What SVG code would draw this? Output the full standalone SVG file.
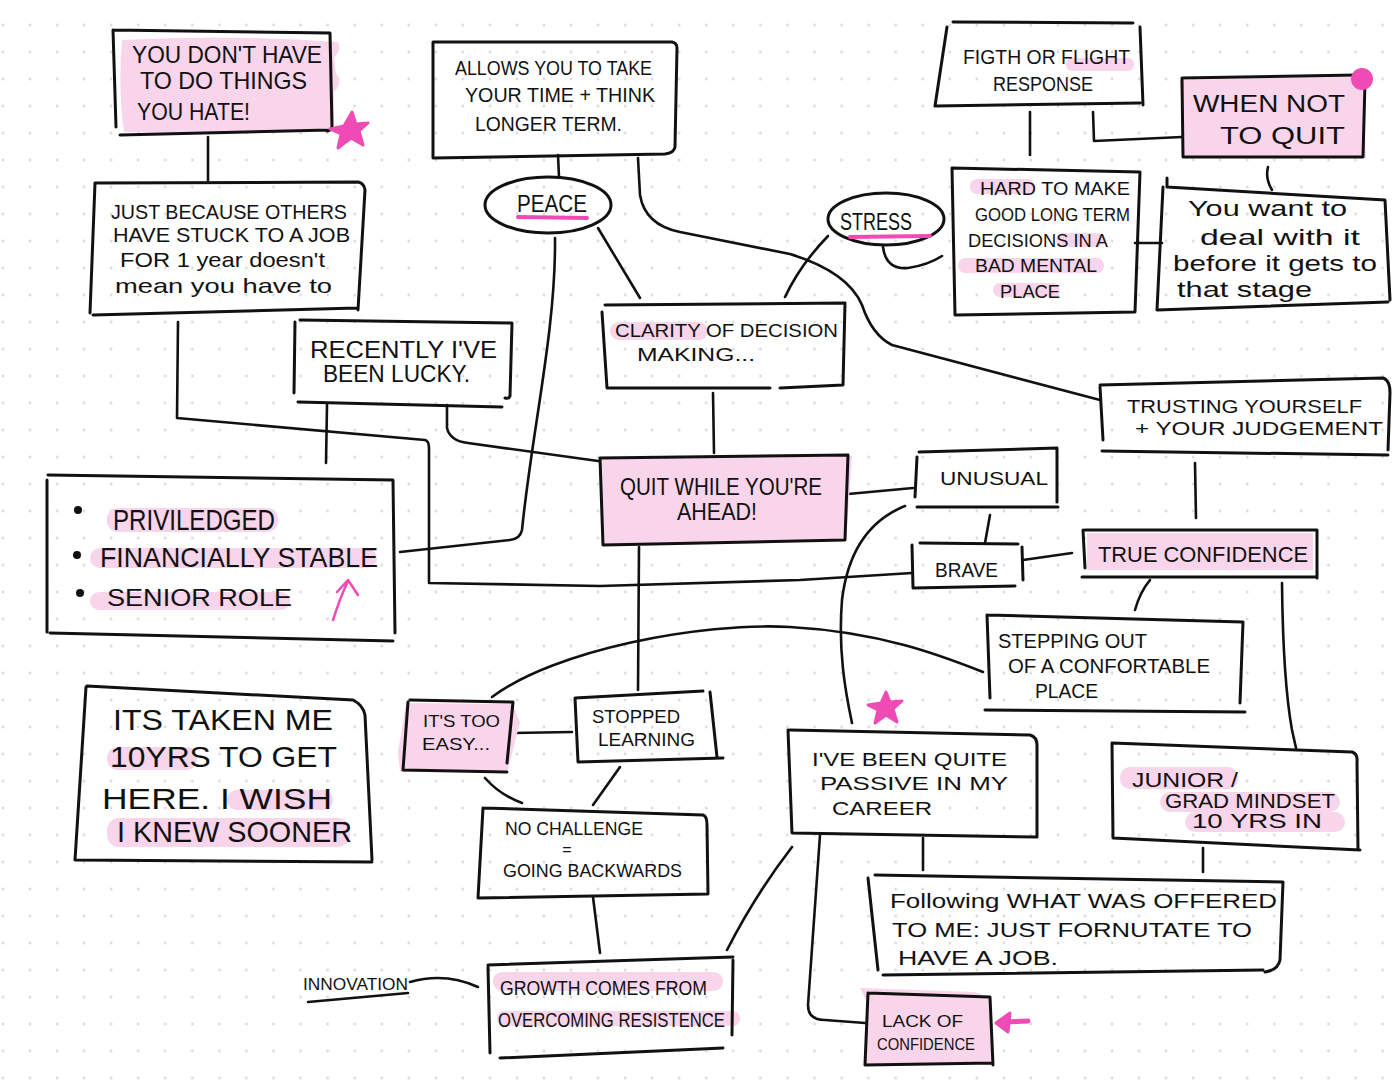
<svg xmlns="http://www.w3.org/2000/svg" width="1400" height="1084" viewBox="0 0 1400 1084">
<defs>
<pattern id="dots" x="-10.5" y="11.5" width="27.05" height="27" patternUnits="userSpaceOnUse"><circle cx="13.5" cy="13.5" r="1.3" fill="#d2d2d2"/></pattern>
</defs>
<style>
.b{fill:none;stroke:#111;stroke-width:3;stroke-linecap:round;stroke-linejoin:round}
.c{fill:none;stroke:#111;stroke-width:2.6;stroke-linecap:round;stroke-linejoin:round}
.f{fill:#f8d5ea}
.hl{fill:#f8d5ea}
.pk{fill:#ee4cb4}
.pks{fill:none;stroke:#ee4cb4;stroke-linecap:round;stroke-linejoin:round}
text{font-family:"Liberation Sans",Arial,sans-serif;fill:#111}
</style>
<rect width="1400" height="1084" fill="#fff"/>
<rect width="1400" height="1084" fill="url(#dots)"/>

<g id="connectors">
<path class="c" d="M208,137 L208,181"/>
<path class="c" d="M178,322 L177,418 L425,440 Q429,441 429,448 L429,583 L600,586 L800,580 L912,573"/>
<path class="c" d="M327,405 L326,463"/>
<path class="c" d="M447,405 L447,428 Q450,441 468,443 L598,461"/>
<path class="c" d="M558,155 L559,177"/>
<path class="c" d="M555,238 C556,330 532,430 522,530 Q520,539 510,540 L400,552"/>
<path class="c" d="M598,228 L640,298"/>
<path class="c" d="M638,158 L640,195 Q645,225 680,232 L790,254 Q848,272 862,305 Q872,335 892,345 L1100,400"/>
<path class="c" d="M828,236 Q800,265 785,297"/>
<path class="c" d="M883,247 Q886,270 908,268 Q928,265 942,256"/>
<path class="c" d="M1030,112 L1030,155"/>
<path class="c" d="M1093,112 L1094,141 L1182,137"/>
<path class="c" d="M1268,167 Q1265,178 1272,190"/>
<path class="c" d="M1135,243 L1162,243"/>
<path class="c" d="M713,393 L714,453"/>
<path class="c" d="M848,494 L913,488"/>
<path class="c" d="M990,515 L985,543"/>
<path class="c" d="M1023,560 L1072,553"/>
<path class="c" d="M1195,463 L1196,518"/>
<path class="c" d="M1150,580 Q1140,592 1135,610"/>
<path class="c" d="M1282,583 Q1283,680 1292,730 L1296,748"/>
<path class="c" d="M905,506 C870,520 848,550 842,600 C838,650 845,690 852,723"/>
<path class="c" d="M492,697 C555,650 700,622 790,627 C880,632 940,655 983,672"/>
<path class="c" d="M639,547 L638,690"/>
<path class="c" d="M513,733 L572,732"/>
<path class="c" d="M485,778 Q500,795 522,803"/>
<path class="c" d="M620,767 L593,805"/>
<path class="c" d="M593,897 L600,953"/>
<path class="c" d="M727,950 Q755,895 792,847"/>
<path class="c" d="M410,982 Q445,972 478,987"/>
<path class="c" d="M820,835 L808,1005 Q808,1020 825,1020 L865,1023"/>
<path class="c" d="M923,838 L923,870"/>
<path class="c" d="M1203,848 L1203,872"/>
</g>

<g id="n-dont-have">
<path class="f" d="M122,40 Q230,34 338,42 Q342,50 334,58 L336,74 Q344,82 334,92 L334,128 Q230,134 124,132 Q118,90 122,40 Z"/>
<path class="b" d="M113,30 L330,33 L332,127 Q331,131 327,131 M120,135 L330,130 M113,30 L116,127"/>
<text x="132" y="63" font-size="24" textLength="190" lengthAdjust="spacingAndGlyphs">YOU DON'T HAVE</text>
<text x="140" y="89" font-size="24" textLength="167" lengthAdjust="spacingAndGlyphs">TO DO THINGS</text>
<text x="137" y="120" font-size="24" textLength="113" lengthAdjust="spacingAndGlyphs">YOU HATE!</text>
<path class="pk" d="M352,112 L356,124 L368,123 L359,131 L363,145 L351,138 L338,148 L341,134 L330,129 L344,126 Z" stroke="#ee4cb4" stroke-width="3" stroke-linejoin="round"/>
</g>

<g id="n-just-because">
<path class="b" d="M95,183 L358,182 Q364,183 365,190 L358,310 M93,315 L357,308 M95,183 L90,313"/>
<text x="111" y="219" font-size="21" textLength="236" lengthAdjust="spacingAndGlyphs">JUST BECAUSE OTHERS</text>
<text x="113" y="242" font-size="21" textLength="237" lengthAdjust="spacingAndGlyphs">HAVE STUCK TO A JOB</text>
<text x="120" y="267" font-size="21" textLength="205" lengthAdjust="spacingAndGlyphs">FOR 1 year doesn't</text>
<text x="115" y="293" font-size="21" textLength="217" lengthAdjust="spacingAndGlyphs">mean you have to</text>
</g>

<g id="n-allows">
<path class="b" d="M433,42 L672,42 Q677,43 677,48 L675,147 Q674,153 665,154 L433,158 L433,42"/>
<text x="455" y="75" font-size="20" textLength="197" lengthAdjust="spacingAndGlyphs">ALLOWS YOU TO TAKE</text>
<text x="465" y="102" font-size="20" textLength="190" lengthAdjust="spacingAndGlyphs">YOUR TIME + THINK</text>
<text x="475" y="131" font-size="20" textLength="147" lengthAdjust="spacingAndGlyphs">LONGER TERM.</text>
</g>

<g id="n-peace">
<ellipse class="b" cx="548" cy="205" rx="63" ry="28"/>
<path class="pks" stroke-width="4" d="M518,217 L587,218"/>
<text x="517" y="212" font-size="24" textLength="70" lengthAdjust="spacingAndGlyphs">PEACE</text>
</g>

<g id="n-stress">
<ellipse class="b" cx="886" cy="219" rx="58" ry="26"/>
<path class="pks" stroke-width="4" d="M850,237 L930,236"/>
<text x="840" y="230" font-size="23" textLength="72" lengthAdjust="spacingAndGlyphs">STRESS</text>
</g>

<g id="n-fight">
<rect class="hl" x="1066" y="58" width="68" height="13" rx="6"/>
<path class="b" d="M953,22 L1133,23 M947,27 L935,106 L1140,103 M1140,27 L1143,105"/>
<text x="963" y="64" font-size="20" textLength="167" lengthAdjust="spacingAndGlyphs">FIGTH OR FLIGHT</text>
<text x="993" y="91" font-size="20" textLength="100" lengthAdjust="spacingAndGlyphs">RESPONSE</text>
</g>

<g id="n-when-not">
<path class="f" d="M1180,80 L1362,76 L1366,158 L1184,157 Z"/>
<path class="b" d="M1182,78 L1357,75 M1365,82 L1363,157 L1183,157 L1182,78"/>
<circle class="pk" cx="1362" cy="79" r="11"/>
<text x="1193" y="112" font-size="23" textLength="152" lengthAdjust="spacingAndGlyphs">WHEN NOT</text>
<text x="1220" y="144" font-size="23" textLength="125" lengthAdjust="spacingAndGlyphs">TO QUIT</text>
</g>

<g id="n-hard">
<rect class="hl" x="970" y="179" width="64" height="15" rx="7"/>
<rect class="hl" x="1056" y="233" width="48" height="14" rx="7"/>
<rect class="hl" x="958" y="258" width="146" height="15" rx="7"/>
<rect class="hl" x="993" y="283" width="67" height="14" rx="7"/>
<path class="b" d="M952,168 L1140,172 L1135,312 L955,315 L952,168"/>
<text x="980" y="195" font-size="18" textLength="150" lengthAdjust="spacingAndGlyphs">HARD TO MAKE</text>
<text x="975" y="221" font-size="18" textLength="155" lengthAdjust="spacingAndGlyphs">GOOD LONG TERM</text>
<text x="968" y="247" font-size="18" textLength="140" lengthAdjust="spacingAndGlyphs">DECISIONS IN A</text>
<text x="975" y="272" font-size="18" textLength="122" lengthAdjust="spacingAndGlyphs">BAD MENTAL</text>
<text x="1000" y="298" font-size="18" textLength="60" lengthAdjust="spacingAndGlyphs">PLACE</text>
</g>

<g id="n-you-want">
<path class="b" d="M1167,178 L1167,187 L1385,200 L1390,300 M1163,187 L1157,310 L1388,302"/>
<text x="1188" y="216" font-size="22" textLength="159" lengthAdjust="spacingAndGlyphs">You want to</text>
<text x="1200" y="245" font-size="22" textLength="160" lengthAdjust="spacingAndGlyphs">deal with it</text>
<text x="1173" y="271" font-size="22" textLength="204" lengthAdjust="spacingAndGlyphs">before it gets to</text>
<text x="1177" y="297" font-size="22" textLength="135" lengthAdjust="spacingAndGlyphs">that stage</text>
</g>

<g id="n-recently">
<path class="b" d="M300,320 L512,323 L510,396 Q509,399 505,398 M295,322 L294,393 M298,402 L502,407"/>
<text x="310" y="358" font-size="23" textLength="187" lengthAdjust="spacingAndGlyphs">RECENTLY I'VE</text>
<text x="323" y="382" font-size="23" textLength="147" lengthAdjust="spacingAndGlyphs">BEEN LUCKY.</text>
</g>

<g id="n-clarity">
<rect class="hl" x="610" y="322" width="98" height="18" rx="9"/>
<path class="b" d="M605,305 L845,303 L843,385 L780,388 M770,388 L607,388 L602,312"/>
<text x="615" y="337" font-size="19" textLength="223" lengthAdjust="spacingAndGlyphs">CLARITY OF DECISION</text>
<text x="637" y="361" font-size="19" textLength="118" lengthAdjust="spacingAndGlyphs">MAKING...</text>
</g>

<g id="n-quit">
<path class="f" d="M601,458 L852,456 L846,541 L603,545 Z"/>
<path class="b" d="M600,458 L848,455 L845,540 L603,545 L600,458"/>
<text x="620" y="495" font-size="24" textLength="202" lengthAdjust="spacingAndGlyphs">QUIT WHILE YOU'RE</text>
<text x="677" y="520" font-size="24" textLength="80" lengthAdjust="spacingAndGlyphs">AHEAD!</text>
</g>

<g id="n-unusual">
<path class="b" d="M919,452 L1057,448 L1057,502 M917,457 L915,497 M917,507 L1058,507"/>
<text x="940" y="485" font-size="18" textLength="108" lengthAdjust="spacingAndGlyphs">UNUSUAL</text>
</g>

<g id="n-trusting">
<path class="b" d="M1100,385 L1383,378 Q1390,380 1390,393 L1388,450 M1100,387 L1103,440 M1102,451 L1388,455"/>
<text x="1127" y="413" font-size="19" textLength="235" lengthAdjust="spacingAndGlyphs">TRUSTING YOURSELF</text>
<text x="1135" y="435" font-size="19" textLength="248" lengthAdjust="spacingAndGlyphs">+ YOUR JUDGEMENT</text>
</g>

<g id="n-brave">
<path class="b" d="M920,543 L1018,544 M912,545 L913,588 L1015,586 M1022,547 L1023,580"/>
<text x="935" y="577" font-size="21" textLength="63" lengthAdjust="spacingAndGlyphs">BRAVE</text>
</g>

<g id="n-true">
<path class="f" d="M1087,533 L1313,533 L1313,570 L1087,570 Z"/>
<path class="b" d="M1085,530 L1317,530 L1317,578 M1083,530 L1085,568 M1082,577 L1317,577"/>
<text x="1098" y="562" font-size="22" textLength="210" lengthAdjust="spacingAndGlyphs">TRUE CONFIDENCE</text>
</g>

<g id="n-stepping">
<path class="b" d="M987,615 L1243,622 L1240,703 M987,615 L990,698 M985,710 L1245,712"/>
<text x="998" y="648" font-size="20" textLength="149" lengthAdjust="spacingAndGlyphs">STEPPING OUT</text>
<text x="1008" y="673" font-size="20" textLength="202" lengthAdjust="spacingAndGlyphs">OF A CONFORTABLE</text>
<text x="1035" y="698" font-size="20" textLength="63" lengthAdjust="spacingAndGlyphs">PLACE</text>
</g>

<g id="n-bullets">
<rect class="hl" x="107" y="508" width="171" height="24" rx="11"/>
<rect class="hl" x="90" y="548" width="287" height="20" rx="10"/>
<rect class="hl" x="90" y="592" width="200" height="18" rx="9"/>
<path class="b" d="M48,475 L393,480 L395,633 M47,480 L47,632 M50,633 L393,641"/>
<circle cx="78" cy="510" r="4" fill="#111"/>
<circle cx="77" cy="555" r="4" fill="#111"/>
<circle cx="80" cy="593" r="4" fill="#111"/>
<text x="113" y="530" font-size="30" textLength="162" lengthAdjust="spacingAndGlyphs">PRIVILEDGED</text>
<text x="100" y="567" font-size="28" textLength="278" lengthAdjust="spacingAndGlyphs">FINANCIALLY STABLE</text>
<text x="107" y="606" font-size="24" textLength="185" lengthAdjust="spacingAndGlyphs">SENIOR ROLE</text>
<path class="pks" stroke-width="2.5" d="M333,620 Q340,598 348,581 M337,592 L348,580 L358,595"/>
</g>

<g id="n-its-taken">
<rect class="hl" x="107" y="747" width="90" height="23" rx="11"/>
<rect class="hl" x="227" y="790" width="106" height="20" rx="10"/>
<rect class="hl" x="107" y="818" width="243" height="29" rx="12"/>
<path class="b" d="M87,686 L353,700 Q363,705 365,715 L372,860 M75,860 L372,862 M86,687 L75,860"/>
<text x="113" y="730" font-size="30" textLength="220" lengthAdjust="spacingAndGlyphs">ITS TAKEN ME</text>
<text x="110" y="767" font-size="30" textLength="227" lengthAdjust="spacingAndGlyphs">10YRS TO GET</text>
<text x="102" y="809" font-size="30" textLength="230" lengthAdjust="spacingAndGlyphs">HERE. I WISH</text>
<text x="117" y="842" font-size="30" textLength="235" lengthAdjust="spacingAndGlyphs">I KNEW SOONER</text>
</g>

<g id="n-too-easy">
<path class="f" d="M406,703 L512,704 L520,722 L508,770 L400,772 L398,752 Z"/>
<path class="b" d="M410,700 L513,702 L507,763 M408,702 L403,770 L507,772"/>
<text x="423" y="727" font-size="17" textLength="77" lengthAdjust="spacingAndGlyphs">IT'S TOO</text>
<text x="422" y="750" font-size="17" textLength="68" lengthAdjust="spacingAndGlyphs">EASY...</text>
</g>

<g id="n-stopped">
<path class="b" d="M575,698 L703,691 M710,692 L717,757 M578,762 L723,758 M575,698 L578,762"/>
<text x="592" y="723" font-size="19" textLength="88" lengthAdjust="spacingAndGlyphs">STOPPED</text>
<text x="598" y="746" font-size="19" textLength="97" lengthAdjust="spacingAndGlyphs">LEARNING</text>
</g>

<g id="n-no-challenge">
<path class="b" d="M483,808 L703,815 Q707,816 707,825 L708,894 L478,898 L483,808"/>
<text x="505" y="835" font-size="18" textLength="138" lengthAdjust="spacingAndGlyphs">NO CHALLENGE</text>
<text x="567" y="855" font-size="16" text-anchor="middle">=</text>
<text x="503" y="877" font-size="18" textLength="179" lengthAdjust="spacingAndGlyphs">GOING BACKWARDS</text>
</g>

<g id="n-growth">
<rect class="hl" x="493" y="972" width="230" height="19" rx="9"/>
<rect class="hl" x="497" y="1011" width="243" height="15" rx="7"/>
<path class="b" d="M488,965 L733,957 M488,967 L490,1053 M733,960 L732,1035 M500,1058 L723,1048"/>
<text x="500" y="995" font-size="20" textLength="207" lengthAdjust="spacingAndGlyphs">GROWTH COMES FROM</text>
<text x="498" y="1027" font-size="20" textLength="227" lengthAdjust="spacingAndGlyphs">OVERCOMING RESISTENCE</text>
</g>

<g id="n-innovation">
<text x="303" y="990" font-size="16" textLength="105" lengthAdjust="spacingAndGlyphs">INNOVATION</text>
<path class="c" d="M308,1002 L408,993"/>
</g>

<g id="n-passive">
<path class="b" d="M790,730 L1030,735 Q1037,737 1037,745 L1037,837 M788,730 L792,833 L1037,837"/>
<text x="812" y="766" font-size="19" textLength="195" lengthAdjust="spacingAndGlyphs">I'VE BEEN QUITE</text>
<text x="820" y="790" font-size="19" textLength="188" lengthAdjust="spacingAndGlyphs">PASSIVE IN MY</text>
<text x="832" y="815" font-size="19" textLength="100" lengthAdjust="spacingAndGlyphs">CAREER</text>
<path class="pk" d="M886,692 L890,702 L902,701 L893,709 L897,722 L886,715 L875,723 L878,710 L868,705 L881,703 Z" stroke="#ee4cb4" stroke-width="3" stroke-linejoin="round"/>
</g>

<g id="n-junior">
<rect class="hl" x="1120" y="767" width="118" height="22" rx="10"/>
<rect class="hl" x="1160" y="792" width="180" height="20" rx="10"/>
<rect class="hl" x="1185" y="812" width="160" height="20" rx="10"/>
<path class="b" d="M1112,743 L1352,752 Q1358,754 1357,762 L1358,850 M1113,838 L1360,850 M1112,743 L1113,838"/>
<text x="1132" y="787" font-size="20" textLength="106" lengthAdjust="spacingAndGlyphs">JUNIOR /</text>
<text x="1165" y="808" font-size="20" textLength="170" lengthAdjust="spacingAndGlyphs">GRAD MINDSET</text>
<text x="1192" y="828" font-size="20" textLength="130" lengthAdjust="spacingAndGlyphs">10 YRS IN</text>
</g>

<g id="n-following">
<path class="b" d="M875,875 L1283,882 L1280,960 Q1278,970 1265,972 M868,878 L878,970 M883,975 L1263,970"/>
<text x="890" y="908" font-size="21" textLength="387" lengthAdjust="spacingAndGlyphs">Following WHAT WAS OFFERED</text>
<text x="892" y="937" font-size="21" textLength="360" lengthAdjust="spacingAndGlyphs">TO ME: JUST FORNUTATE TO</text>
<text x="898" y="965" font-size="21" textLength="160" lengthAdjust="spacingAndGlyphs">HAVE A JOB.</text>
</g>

<g id="n-lack">
<path class="f" d="M860,988 L975,992 L991,998 L993,1063 L866,1066 L866,1000 Z"/>
<path class="b" d="M868,993 L990,997 L993,1065 M868,993 L865,1065 L993,1063"/>
<text x="882" y="1027" font-size="16" textLength="81" lengthAdjust="spacingAndGlyphs">LACK OF</text>
<text x="877" y="1050" font-size="16" textLength="98" lengthAdjust="spacingAndGlyphs">CONFIDENCE</text>
<path class="pks" stroke-width="5" d="M1028,1021 L1005,1022"/>
<path class="pk" d="M996,1023 L1010,1013 L1008,1032 Z" stroke="#ee4cb4" stroke-width="3" stroke-linejoin="round"/>
</g>
</svg>
